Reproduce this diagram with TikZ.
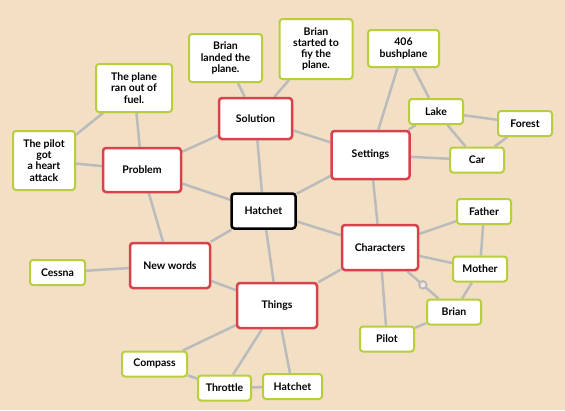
\documentclass[tikz,border=0pt]{standalone}
\usepackage{fontspec}
\setmainfont{Lato}
\usetikzlibrary{backgrounds}

\definecolor{paper}{HTML}{F2DFC4}
\definecolor{topicred}{HTML}{D8424A}
\definecolor{leafgreen}{HTML}{B9CE3C}
\definecolor{linkgray}{HTML}{BBBBBB}

\begin{document}
\begin{tikzpicture}[
  x=1pt, y=-1pt,
  box/.style={fill=white, rounded corners=3pt, align=center, inner sep=2pt, text=black, font=\fontsize{10.5}{11.2}\selectfont\bfseries},
  core/.style={box, draw=black, line width=2.5pt, minimum width=64, minimum height=35},
  topic/.style={box, draw=topicred, line width=2.5pt, minimum width=78, minimum height=44},
  leaf/.style={box, draw=leafgreen, line width=2pt, minimum width=54, minimum height=25},
  link/.style={draw=linkgray, line width=2.5pt},
  knob/.style={circle, draw=linkgray, line width=2pt, fill=paper!70!white, inner sep=0pt, minimum size=7.5pt}
]
% --- centre and topics ---
\node[core] (hat) at (263.5,211) {Hatchet};
\node[topic] (prob) at (142,170) {Problem};
\node[topic, minimum width=73, minimum height=41] (sol) at (255.5,118.5) {Solution};
\node[topic, minimum height=48] (set) at (370.5,155) {Settings};
\node[topic, minimum width=80, minimum height=45] (nw) at (170,265.5) {New words};
\node[topic, minimum width=80, minimum height=45] (thg) at (277,305.5) {Things};
\node[topic, minimum width=76, minimum height=45] (chr) at (380,247.5) {Characters};

% --- Problem ---
\node[leaf, minimum width=76, minimum height=48] (fuel) at (134,88) {The plane\\ran out of\\fuel.};
\node[leaf, minimum width=62, minimum height=59] (pil) at (44,160.5) {The pilot\\got\\a heart\\attack};

% --- Solution ---
\node[leaf, minimum width=73, minimum height=48] (land) at (225.5,58) {Brian\\landed the\\plane.};
\node[leaf, minimum width=73, minimum height=60] (fly) at (316,49) {Brian\\started to\\fiy the\\plane.};

% --- Settings ---
\node[leaf, minimum width=71, minimum height=37] (bush) at (403.5,48.5) {406\\bushplane};
\node[leaf] (lake) at (436,111.5) {Lake};
\node[leaf] (for) at (525,123.5) {Forest};
\node[leaf] (car) at (477,160) {Car};

% --- Characters ---
\node[leaf] (fat) at (484,211.5) {Father};
\node[leaf] (mot) at (480,269) {Mother};
\node[leaf] (bri) at (454,312) {Brian};
\node[leaf] (pilot) at (387,339) {Pilot};

% --- New words and Things ---
\node[leaf, minimum width=55] (ces) at (57.5,272.5) {Cessna};
\node[leaf, minimum width=65] (com) at (154.5,364) {Compass};
\node[leaf, minimum width=53] (thr) at (224.5,388) {Throttle};
\node[leaf, minimum width=59] (hat2) at (292.5,386.5) {Hatchet};

\begin{scope}[on background layer]
\fill[paper] (0,0) rectangle (565,410);
% links
\draw[link] (hat) -- (prob);
\draw[link] (hat) -- (sol);
\draw[link] (hat) -- (set);
\draw[link] (hat) -- (nw);
\draw[link] (hat) -- (thg);
\draw[link] (hat) -- (chr);
\draw[link] (prob) -- (sol);
\draw[link] (prob) -- (nw);
\draw[link] (prob) -- (fuel);
\draw[link] (prob) -- (pil);
\draw[link] (pil) -- (fuel);
\draw[link] (sol) -- (land);
\draw[link] (sol) -- (fly);
\draw[link] (sol) -- (set);
\draw[link] (set) -- (bush);
\draw[link] (set) -- (lake);
\draw[link] (set) -- (car);
\draw[link] (set) -- (chr);
\draw[link] (bush) -- (lake);
\draw[link] (lake) -- (for);
\draw[link] (lake) -- (car);
\draw[link] (for) -- (car);
\draw[link] (chr) -- (fat);
\draw[link] (chr) -- (mot);
\draw[link] (chr) -- node[knob, pos=0.5] (kn) {} (bri);
\draw[link] (chr) -- (pilot);
\draw[link] (fat) -- (mot);
\draw[link] (mot) -- (bri);
\draw[link] (bri) -- (pilot);
\draw[link] (nw) -- (ces);
\draw[link] (nw) -- (thg);
\draw[link] (thg) -- (chr);
\draw[link] (thg) -- (com);
\draw[link] (thg) -- (thr);
\draw[link] (thg) -- (hat2);
\draw[link] (com) -- (thr);
\draw[link] (thr) -- (hat2);
\end{scope}
\end{tikzpicture}
\end{document}
